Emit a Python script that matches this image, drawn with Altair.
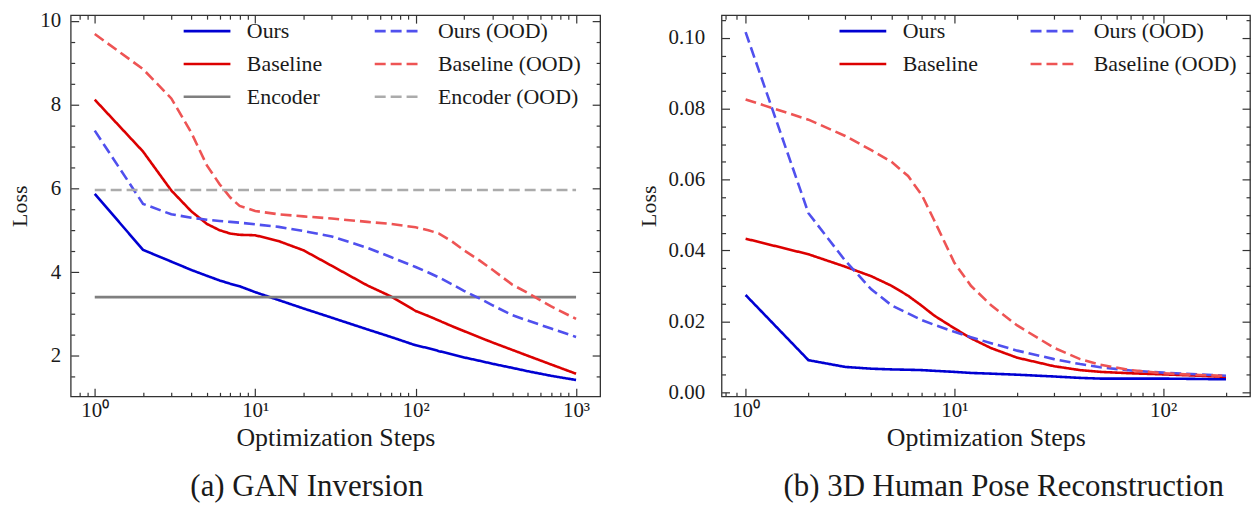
import altair as alt
import pandas as pd

FONT = "Liberation Serif"
INK = "#1a1a1a"
FRAME = "#333333"

# ---------------- (a) GAN Inversion ----------------
steps_a = [1, 2, 3, 4, 5, 6, 7, 8, 10, 14, 20, 30, 50, 70, 100, 120, 140, 170, 200, 250, 300, 400,
           500, 700, 1000]
ours_a = [5.87, 4.53, 4.25, 4.05, 3.91, 3.80, 3.72, 3.66, 3.52, 3.33, 3.13, 2.91, 2.63, 2.45, 2.25,
          2.18, 2.11, 2.03, 1.96, 1.88, 1.81, 1.71, 1.63, 1.52, 1.42]
baseline_a = [8.12, 6.88, 5.95, 5.45, 5.15, 5.00, 4.92, 4.89, 4.88, 4.74, 4.52, 4.15, 3.68, 3.42, 3.07,
              2.95, 2.84, 2.70, 2.59, 2.44, 2.32, 2.14, 2.00, 1.79, 1.57]
ours_ood_a = [7.38, 5.63, 5.38, 5.30, 5.25, 5.22, 5.20, 5.18, 5.14, 5.08, 4.98, 4.85, 4.58, 4.36, 4.12,
              3.99, 3.87, 3.70, 3.55, 3.37, 3.21, 2.97, 2.84, 2.65, 2.45]
baseline_ood_a = [9.69, 8.85, 8.15, 7.33, 6.55, 6.10, 5.78, 5.58, 5.46, 5.38, 5.33, 5.28, 5.20, 5.15,
                  5.07, 5.00, 4.92, 4.72, 4.52, 4.28, 4.06, 3.70, 3.50, 3.18, 2.88]
encoder_steps_a = [1, 1000]
encoder_a = [3.40, 3.40]
encoder_ood_a = [5.96, 5.96]

x_domain_a = [0.708, 1413]
y_domain_a = [1.03, 10.14]
x_major_a = [1, 10, 100, 1000]
x_labels_a = ["10⁰", "10¹", "10²", "10³"]
x_minor_a = [0.8, 0.9, 2, 3, 4, 5, 6, 7, 8, 9, 20, 30, 40, 50, 60, 70, 80, 90,
             200, 300, 400, 500, 600, 700, 800, 900]
y_major_a = [2, 4, 6, 8, 10]
y_minor_a = [1.5, 2.5, 3, 3.5, 4.5, 5, 5.5, 6.5, 7, 7.5, 8.5, 9, 9.5]

# ---------------- (b) 3D Human Pose Reconstruction ----------------
steps_b = [1, 2, 3, 4, 5, 6, 7, 8, 10, 12, 15, 20, 30, 40, 50, 70, 100, 150, 200]
ours_b = [0.0274, 0.0090, 0.0071, 0.0066, 0.0064, 0.0063, 0.0062, 0.0060, 0.0057, 0.0054, 0.0052,
          0.0049, 0.0044, 0.0040, 0.0038, 0.0038, 0.0038, 0.0037, 0.0036]
baseline_b = [0.0433, 0.0389, 0.0354, 0.0327, 0.0300, 0.0272, 0.0243, 0.0216, 0.0180, 0.0152, 0.0124,
              0.0097, 0.0073, 0.0062, 0.0057, 0.0053, 0.0050, 0.0046, 0.0043]
ours_ood_b = [0.1016, 0.0505, 0.0371, 0.0290, 0.0245, 0.0222, 0.0203, 0.0190, 0.0170, 0.0155, 0.0138,
              0.0117, 0.0093, 0.0079, 0.0070, 0.0061, 0.0055, 0.0050, 0.0046]
baseline_ood_b = [0.0826, 0.0769, 0.0723, 0.0683, 0.0650, 0.0610, 0.0555, 0.0485, 0.0365, 0.0300, 0.0245,
                  0.0188, 0.0125, 0.0093, 0.0077, 0.0062, 0.0053, 0.0048, 0.0046]

x_domain_b = [0.767, 260.6]
y_domain_b = [-0.0012, 0.1064]
x_major_b = [1, 10, 100]
x_labels_b = ["10⁰", "10¹", "10²"]
x_minor_b = [0.8, 0.9, 2, 3, 4, 5, 6, 7, 8, 9, 20, 30, 40, 50, 60, 70, 80, 90, 200]
y_major_b = [0.0, 0.02, 0.04, 0.06, 0.08, 0.10]
y_minor_b = [0.005, 0.01, 0.015, 0.025, 0.03, 0.035, 0.045, 0.05, 0.055, 0.065, 0.07, 0.075,
             0.085, 0.09, 0.095, 0.105]

# legend fills column by column
order_a = ["Ours", "Baseline", "Encoder", "Ours (OOD)", "Baseline (OOD)", "Encoder (OOD)"]
colors_a = ["#0000d2", "#dc0000", "#7f7f7f", "#5050ee", "#ee5454", "#ababab"]
dashes_a = [[1, 0], [1, 0], [1, 0], [11, 5], [11, 5], [11, 5]]
order_b = ["Ours", "Baseline", "Ours (OOD)", "Baseline (OOD)"]
colors_b = ["#0000d2", "#dc0000", "#5050ee", "#ee5454"]
dashes_b = [[1, 0], [1, 0], [11, 5], [11, 5]]


def make_df(curves):
    rows = []
    for name, xs, ys in curves:
        for x, y in zip(xs, ys):
            rows.append({"step": x, "loss": y, "series": name})
    return pd.DataFrame(rows)


df_a = make_df([
    ("Ours", steps_a, ours_a),
    ("Baseline", steps_a, baseline_a),
    ("Encoder", encoder_steps_a, encoder_a),
    ("Ours (OOD)", steps_a, ours_ood_a),
    ("Baseline (OOD)", steps_a, baseline_ood_a),
    ("Encoder (OOD)", encoder_steps_a, encoder_ood_a),
])
df_b = make_df([
    ("Ours", steps_b, ours_b),
    ("Baseline", steps_b, baseline_b),
    ("Ours (OOD)", steps_b, ours_ood_b),
    ("Baseline (OOD)", steps_b, baseline_ood_b),
])


def label_expr(values, labels):
    expr = "''"
    for v, l in reversed(list(zip(values, labels))):
        expr = f"(abs(datum.value - {v}) < {v}*1e-6) ? '{l}' : {expr}"
    return expr


def panel(df, order, colors, dashes, xdom, ydom, xmaj, xlab, xmin, ymaj, ymin, yfmt, ylabpad,
          caption, lx, ly, cap_frame, cap_dx, width):
    xs = alt.Scale(type="log", domain=xdom, nice=False)
    ys = alt.Scale(domain=ydom, nice=False, zero=False)
    leg = alt.Legend(orient="none", legendX=lx, legendY=ly, columns=2, title=None,
                     labelFont=FONT, labelFontSize=22, labelColor=INK,
                     symbolType="M-4.7,0H4.7", symbolSize=100, symbolStrokeWidth=2.6,
                     labelOffset=29, rowPadding=11, columnPadding=47, padding=0)
    base = alt.Chart(df)
    lines = base.mark_line(strokeWidth=2.6, clip=True).encode(
        x=alt.X("step:Q", scale=xs, axis=alt.Axis(
            orient="bottom", values=xmaj, labelExpr=label_expr(xmaj, xlab), ticks=False,
            domain=False, grid=False, labelFlush=False, labelPadding=3, labelFont=FONT,
            labelFontSize=21, labelColor=INK, title="Optimization Steps", titleFont=FONT,
            titleFontSize=26, titleFontWeight="normal", titleColor=INK, titlePadding=4)),
        y=alt.Y("loss:Q", scale=ys, axis=alt.Axis(
            orient="left", values=ymaj, format=yfmt, ticks=False, domain=False, grid=False,
            labelPadding=ylabpad, labelFont=FONT, labelFontSize=21, labelColor=INK,
            title="Loss", titleFont=FONT, titleFontSize=22, titleFontWeight="normal",
            titleColor=INK, titlePadding=8)),
        color=alt.Color("series:N", scale=alt.Scale(domain=order, range=colors), legend=leg),
        strokeDash=alt.StrokeDash("series:N", scale=alt.Scale(domain=order, range=dashes), legend=leg),
    )

    def ticks(xv, yv, xo, yo, size):
        return base.mark_point(opacity=0).encode(
            x=alt.X("step:Q", scale=xs, axis=alt.Axis(
                orient=xo, values=xv, offset=-size, tickSize=size, tickWidth=1.2, tickColor=FRAME,
                labels=False, domain=False, grid=False, title=None)),
            y=alt.Y("loss:Q", scale=ys, axis=alt.Axis(
                orient=yo, values=yv, offset=-size, tickSize=size, tickWidth=1.2, tickColor=FRAME,
                labels=False, domain=False, grid=False, title=None)),
        )

    layers = [lines,
              ticks(xmaj, ymaj, "bottom", "left", 8),
              ticks(xmin, ymin, "bottom", "left", 4),
              ticks(xmaj, ymaj, "top", "right", 8),
              ticks(xmin, ymin, "top", "right", 4)]
    return alt.layer(*layers).resolve_axis(x="independent", y="independent").properties(
        width=width, height=383,
        title=alt.TitleParams(text=caption, orient="bottom", font=FONT, fontSize=31,
                              fontWeight="normal", color=INK, offset=22, frame=cap_frame, dx=cap_dx))


pa = panel(df_a, order_a, colors_a, dashes_a, x_domain_a, y_domain_a, x_major_a, x_labels_a,
           x_minor_a, y_major_a, y_minor_a, "d", 10, "(a) GAN Inversion", 126, 5, "bounds", 2, 532)
pb = panel(df_b, order_b, colors_b, dashes_b, x_domain_b, y_domain_b, x_major_b, x_labels_b,
           x_minor_b, y_major_b, y_minor_b, ".2f", 17, "(b) 3D Human Pose Reconstruction", 131, 5,
           "group", 18, 531)

chart = alt.hconcat(pa, pb, spacing=34).resolve_scale(
    color="independent", strokeDash="independent"
).configure_view(stroke=FRAME, strokeWidth=1.3).properties(
    padding={"left": 0, "right": 0, "top": 0, "bottom": 0}
)

chart.save("out.html", embed_options={"renderer": "svg", "actions": False})
